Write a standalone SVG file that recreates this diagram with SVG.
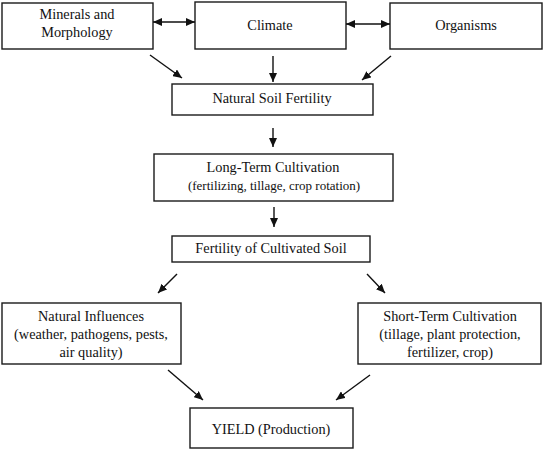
<svg xmlns="http://www.w3.org/2000/svg" width="545" height="450" viewBox="0 0 545 450">
<defs>
<style>
.box{fill:#fff;stroke:#1a1a1a;stroke-width:1.4}
.t{font-family:"Liberation Serif","Times New Roman",serif;font-size:14.3px;fill:#111;text-anchor:middle}
.s{font-size:13px}
.c{stroke:#111;stroke-width:1.4;fill:none;marker-end:url(#ah)}
.d{marker-start:url(#ah)}
</style>
<marker id="ah" markerUnits="userSpaceOnUse" markerWidth="10" markerHeight="8" refX="9" refY="4" orient="auto-start-reverse">
<path d="M0,0 L9,4 L0,8 z" fill="#111"/>
</marker>
</defs>
<rect width="545" height="450" fill="#fff"/>
<g id="minerals"><rect class="box" x="2" y="3" width="151" height="46"/><text class="t" x="77" y="19">Minerals and</text><text class="t" x="77" y="37">Morphology</text></g>
<g id="climate"><rect class="box" x="195" y="2" width="151" height="47"/><text class="t" x="270" y="30">Climate</text></g>
<g id="organisms"><rect class="box" x="390" y="3" width="152" height="46"/><text class="t" x="466" y="30">Organisms</text></g>
<g id="natural"><rect class="box" x="172" y="84" width="201" height="31"/><text class="t" x="272" y="103">Natural Soil Fertility</text></g>
<g id="longterm"><rect class="box" x="154" y="154" width="239" height="47"/><text class="t" x="273" y="172">Long-Term Cultivation</text><text class="t s" x="274" y="190">(fertilizing, tillage, crop rotation)</text></g>
<g id="fertility"><rect class="box" x="172" y="236" width="198" height="26"/><text class="t" x="271" y="253">Fertility of Cultivated Soil</text></g>
<g id="natinf"><rect class="box" x="2" y="303" width="179" height="61"/><text class="t" x="91" y="321">Natural Influences</text><text class="t" x="91" y="339">(weather, pathogens, pests,</text><text class="t" x="91" y="357">air quality)</text></g>
<g id="shortterm"><rect class="box" x="358" y="303" width="183" height="61"/><text class="t" x="450" y="321">Short-Term Cultivation</text><text class="t" x="450" y="339">(tillage, plant protection,</text><text class="t" x="450" y="357">fertilizer, crop)</text></g>
<g id="yield"><rect class="box" x="190" y="408" width="163" height="40"/><text class="t" x="271" y="434">YIELD (Production)</text></g>
<g id="connectors">
<line class="c d" x1="153" y1="22" x2="195" y2="22"/>
<line class="c d" x1="346" y1="24" x2="390" y2="24"/>
<line class="c" x1="150" y1="55" x2="182" y2="78"/>
<line class="c" x1="273" y1="56" x2="273" y2="82"/>
<line class="c" x1="391" y1="56" x2="362" y2="80"/>
<line class="c" x1="273" y1="128" x2="273" y2="147"/>
<line class="c" x1="274" y1="207" x2="274" y2="227"/>
<line class="c" x1="177" y1="274" x2="158" y2="293"/>
<line class="c" x1="367" y1="274" x2="385" y2="293"/>
<line class="c" x1="168" y1="370" x2="203" y2="400"/>
<line class="c" x1="370" y1="375" x2="336" y2="400"/>
</g>
</svg>
